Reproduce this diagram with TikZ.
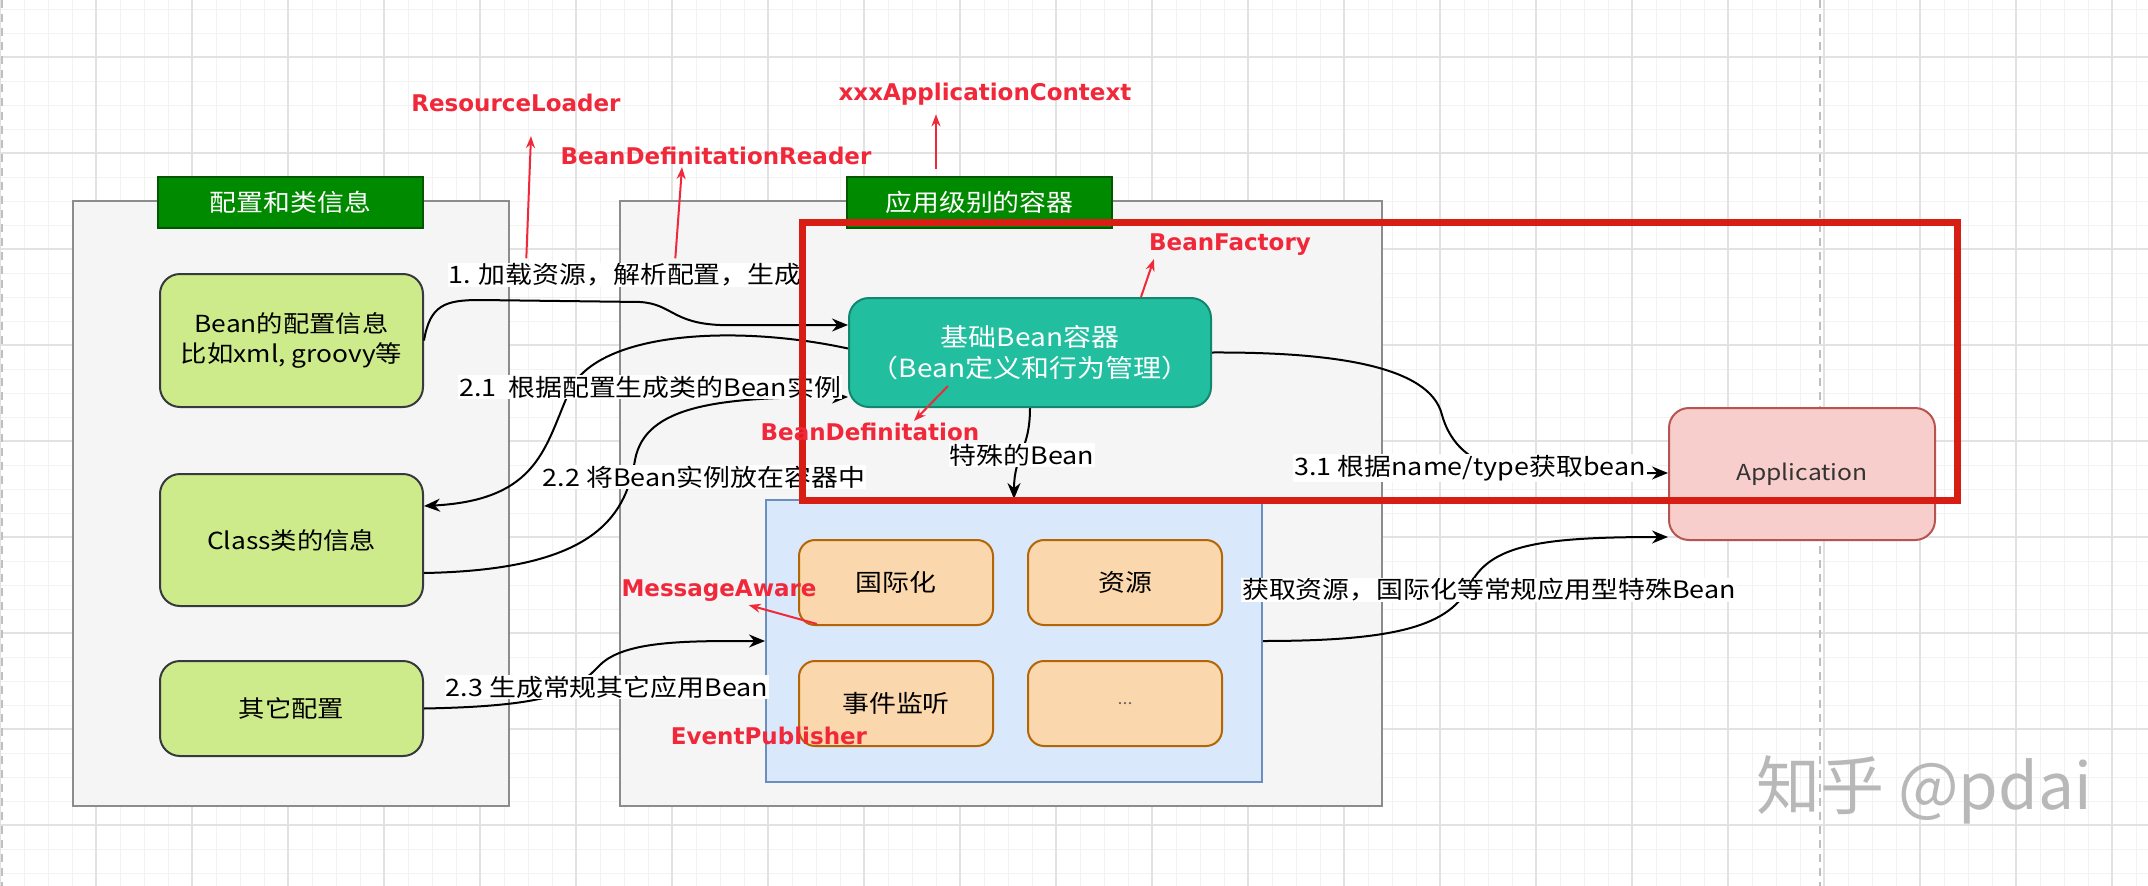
\documentclass[tikz,border=0pt]{standalone}
\usepackage{fontspec}
\setmainfont{Noto Sans CJK SC}[FakeStretch=1.12]
\newfontfamily\redfont{DejaVu Sans}
\newfontfamily\markfont{Noto Sans CJK SC}
\usetikzlibrary{arrows.meta,calc}

\definecolor{panelfill}{HTML}{F5F5F5}
\definecolor{panelline}{HTML}{8C8C8C}
\definecolor{titlefill}{HTML}{008A00}
\definecolor{titleline}{HTML}{005700}
\definecolor{leaffill}{HTML}{CDEB8B}
\definecolor{leafline}{HTML}{36393D}
\definecolor{corefill}{HTML}{21BEA0}
\definecolor{coreline}{HTML}{12876F}
\definecolor{partfill}{HTML}{FAD7AC}
\definecolor{partline}{HTML}{B46504}
\definecolor{groupfill}{HTML}{DAE8FC}
\definecolor{groupline}{HTML}{6C8EBF}
\definecolor{appfill}{HTML}{F8CECC}
\definecolor{appline}{HTML}{B85450}
\definecolor{framered}{HTML}{D81E14}
\definecolor{notered}{HTML}{F0283A}
\definecolor{gridminor}{HTML}{F2F2F2}
\definecolor{gridmajor}{HTML}{E2E2E2}
\definecolor{markgray}{HTML}{B8B8B8}

\begin{document}
\begin{tikzpicture}[x=1pt, y=-1pt,
  panel/.style={draw=panelline, fill=panelfill, line width=2.5pt, inner sep=0},
  title/.style={draw=titleline, fill=titlefill, line width=2pt, text=white,
    minimum width=265pt, minimum height=51pt, font=\fontsize{24}{29}\selectfont},
  leaf/.style={draw=leafline, fill=leaffill, line width=2pt, rounded corners=20pt,
    minimum width=263pt, align=center, font=\fontsize{23.5}{30}\selectfont},
  core/.style={draw=coreline, fill=corefill, line width=2pt, rounded corners=20pt,
    text=white, align=center, font=\fontsize{25}{31}\selectfont},
  part/.style={draw=partline, fill=partfill, line width=2pt, rounded corners=16pt,
    minimum width=194pt, minimum height=85pt, font=\fontsize{24}{29}\selectfont},
  group/.style={draw=groupline, fill=groupfill, line width=2pt},
  app/.style={draw=appline, fill=appfill, line width=2pt, rounded corners=20pt,
    text=black!80, font=\fontsize{22}{29}\selectfont},
  edgelabel/.style={fill=white, inner sep=1pt, font=\fontsize{24}{29}\selectfont},
  notelabel/.style={text=notered, inner sep=0pt, font=\redfont\bfseries\fontsize{23}{28}\selectfont},
  conn/.style={line width=2pt, -{Stealth[length=16pt,width=13pt]}},
  notearrow/.style={draw=notered, line width=2pt, -{Stealth[length=12pt,width=9pt]}}]

\useasboundingbox (0,0) rectangle (2148,886);
\fill[white] (0,0) rectangle (2148,886);

% grid
\foreach \gx in {0,24,...,2148} \draw[gridminor, line width=1pt] (\gx,0) -- (\gx,886);
\foreach \gy in {9,33,...,886} \draw[gridminor, line width=1pt] (0,\gy) -- (2148,\gy);
\foreach \gx in {0,96,...,2148} \draw[gridmajor, line width=1.5pt] (\gx,0) -- (\gx,886);
\foreach \gy in {57,153,...,886} \draw[gridmajor, line width=1.5pt] (0,\gy) -- (2148,\gy);
\draw[black!25, line width=1.5pt, dash pattern=on 8pt off 6pt] (2,0) -- (2,886);
\draw[black!25, line width=1.5pt, dash pattern=on 8pt off 6pt] (1820,0) -- (1820,886);

% panels
\node[panel, minimum width=436pt, minimum height=605pt] (cfgpanel) at (291,503.5) {};
\node[panel, minimum width=762pt, minimum height=605pt] (ctxpanel) at (1001,503.5) {};
\node[title] (cfgtitle) at (290.5,202.5) {配置和类信息};
\node[title] (ctxtitle) at (979.5,202.5) {应用级别的容器};

% boxes
\node[leaf, minimum height=133pt] (beancfg) at (291.5,340.5) {Bean的配置信息\\比如xml, groovy等};
\node[leaf, minimum height=132pt] (classinfo) at (291.5,540) {Class类的信息};
\node[leaf, minimum height=95pt] (othercfg) at (291.5,708.5) {其它配置};
\node[core, minimum width=362pt, minimum height=109pt] (beanfactory) at (1030,352.5) {基础Bean容器\\（Bean定义和行为管理）};
\node[group, minimum width=496pt, minimum height=282pt] (special) at (1014,641) {};
\node[part] (i18n) at (896,582.5) {国际化};
\node[part] (resource) at (1125,582.5) {资源};
\node[part] (event) at (896,703.5) {事件监听};
\node[part, font=\fontsize{16}{20}\selectfont, text=black!60] (more) at (1125,703.5) {...};
\node[app, minimum width=266pt, minimum height=132pt] (application) at (1802,474) {\raisebox{-3pt}{Application}};

% connectors
\draw[conn] (beancfg.east) .. controls (430,305) and (445,300) .. (480,300) -- (640,302)
  .. controls (672,304) and (672,323) .. (720,325) -- ($(beanfactory.west)+(0,-27.5)$);
\draw[conn] ($(beanfactory.west)+(0,-4)$) .. controls (740,325) and (600,330) .. (570,390)
  .. controls (545,445) and (540,500) .. ($(classinfo.east)+(0,-34)$);
\draw[conn] ($(classinfo.east)+(0,33)$) .. controls (590,570) and (625,520) .. (635,460)
  .. controls (645,405) and (720,397) .. ($(beanfactory.west)+(0,44.5)$);
\draw[conn] (othercfg.east) .. controls (560,706) and (575,690) .. (600,665)
  .. controls (625,640) and (690,641) .. (special.west);
\draw[conn] (beanfactory.south) .. controls (1030,450) and (1014,455) .. (special.north);
\draw[conn] (beanfactory.east) .. controls (1330,352) and (1430,365) .. (1442,415)
  .. controls (1452,450) and (1480,473) .. (1540,473) -- ($(application.west)+(0,-1)$);
\draw[conn] (special.east) .. controls (1400,641) and (1450,625) .. (1470,585)
  .. controls (1490,545) and (1540,537) .. ($(application.west)+(0,63)$);

% connector labels
\node[edgelabel] (lbl1) at (625,275) {1. 加载资源，解析配置，生成};
\node[edgelabel] (lbl21) at (650,387) {2.1\ \ 根据配置生成类的Bean实例};
\node[edgelabel] (lbl22) at (704,477) {2.2 将Bean实例放在容器中};
\node[edgelabel] (lbl23) at (607,687) {2.3 生成常规其它应用Bean};
\node[edgelabel] (lblsp) at (1022,455) {特殊的Bean};
\node[edgelabel] (lbl31) at (1470,468) {3.1 根据name/type获取bean};
\node[edgelabel] (lblres) at (1489,590) {获取资源，国际化等常规应用型特殊Bean};

% BeanFactory scope
\draw[framered, line width=7pt] (802,222) rectangle (1957,500);

% class names
\node[notelabel] (resloader) at (516,103) {ResourceLoader};
\node[notelabel] (bdreader) at (716,156) {BeanDefinitationReader};
\node[notelabel] (appctx) at (985,94) {xxxApplicationContext};
\node[notelabel] (bfactory) at (1230,245) {BeanFactory};
\node[notelabel] (bdef) at (870,432) {BeanDefinitation};
\node[notelabel] (msgaware) at (719,591) {MessageAware};
\node[notelabel] (evpub) at (769,736) {EventPublisher};

\draw[notearrow] ($(lbl1.north west)+(79,-4)$) -- ($(resloader.south)+(15,24)$);
\draw[notearrow] ($(lbl1.north west)+(228,-4)$) -- ($(bdreader.south)+(-34,2)$);
\draw[notearrow] ($(ctxtitle.north)+(-43.5,-7)$) -- ($(appctx.south)+(-49,9)$);
\draw[notearrow] ($(beanfactory.north west)+(293,0)$) -- ($(bfactory.south west)+(5,3)$);
\draw[notearrow] ($(beanfactory.south west)+(100,-22)$) -- ($(bdef.north)+(44,-2)$);
\draw[notearrow] ($(i18n.south west)+(19,-2)$) -- ($(msgaware.south east)+(-68,3)$);

% watermark
\node[text=markgray, font=\markfont\fontsize{64}{70}\selectfont] (mark) at (1924,790) {知乎 @pdai};

\end{tikzpicture}
\end{document}
